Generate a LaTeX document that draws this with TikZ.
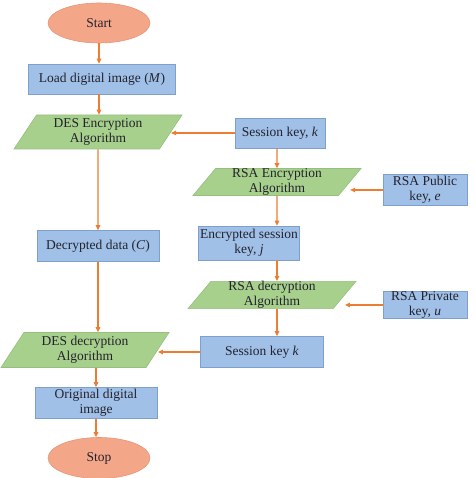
\documentclass[tikz,border=0pt]{standalone}
\usepackage{fontspec}
\setmainfont{Liberation Serif}
\usetikzlibrary{shapes.geometric,arrows.meta}

\definecolor{boxblue}{RGB}{160,192,232}
\definecolor{boxedge}{RGB}{125,160,205}
\definecolor{algogreen}{RGB}{168,208,141}
\definecolor{algoedge}{RGB}{150,190,125}
\definecolor{termfill}{RGB}{244,166,136}
\definecolor{termedge}{RGB}{230,150,120}
\definecolor{flow}{RGB}{237,125,49}
\definecolor{inktext}{RGB}{35,35,45}

\tikzset{
  stepbox/.style={draw=boxedge, fill=boxblue, line width=0.6pt, align=center, inner sep=0pt},
  algo/.style={trapezium, trapezium left angle=50, trapezium right angle=130,
    trapezium stretches body, draw=algoedge, fill=algogreen, line width=0.6pt,
    align=center, inner sep=0pt, minimum width=168},
  term/.style={ellipse, draw=termedge, fill=termfill, line width=0.6pt,
    minimum width=102, minimum height=40},
  flowline/.style={draw=flow, line width=1.1pt, -{Triangle[length=5pt,width=4.5pt]}}
}

\begin{document}
\begin{tikzpicture}[x=1pt,y=1pt,yscale=1,xscale=1,text=inktext,font=\fontsize{13.5}{15}\selectfont]
\useasboundingbox (0,0) rectangle (474,478);
% left column
\node [term] (start) at (99,455) {Start};
\node [stepbox, minimum width=147, minimum height=30] (load) at (102,399) {Load digital image (\textit{M})};
\node [algo, minimum height=34] (desenc) at (98,346) {DES Encryption\\Algorithm};
\node [stepbox, minimum width=122, minimum height=31] (decdata) at (98,232) {Decrypted data (\textit{C})};
\node [algo, minimum height=35] (desdec) at (85,128) {DES decryption\\Algorithm};
\node [stepbox, minimum width=122, minimum height=31] (orig) at (96,75) {Original digital\\image};
\node [term, minimum height=41] (stop) at (99,20) {Stop};
% right column
\node [stepbox, minimum width=90, minimum height=30] (skey) at (280,345) {Session key, \textit{k}};
\node [algo, minimum height=27] (rsaenc) at (277,296) {RSA Encryption\\Algorithm};
\node [stepbox, minimum width=84, minimum height=31] (pubkey) at (425,288) {RSA Public\\key, \textit{e}};
\node [stepbox, minimum width=101, minimum height=34] (encskey) at (249,235) {Encrypted session\\key, \textit{j}};
\node [algo, minimum height=25] (rsadec) at (272,183) {RSA decryption\\Algorithm};
\node [stepbox, minimum width=84, minimum height=25] (privkey) at (425,173) {RSA Private\\key, \textit{u}};
\node [stepbox, minimum width=123, minimum height=31] (skeyout) at (262,126) {Session key \textit{k}};
%Arrows
\draw [flowline] (start) -- (start |- load.north);
\draw [flowline] (load.south -| start) -- (start |- desenc.north);
\draw [flowline] (desenc) -- (desenc |- decdata.north);
\draw [flowline] (decdata.south -| desenc) -- (desenc |- desdec.north);
\draw [flowline] (desdec.south -| orig) -- (orig);
\draw [flowline] (orig) -- (orig |- stop.north);
\draw [flowline] (skey.west) -- (skey.west -| desenc.east);
\draw [flowline] (skey.south -| rsaenc) -- (rsaenc);
\draw [flowline] (pubkey.west) -- (pubkey.west -| rsaenc.east);
\draw [flowline] (rsaenc.south) -- (rsaenc |- encskey.north);
\draw [flowline] (encskey.south -| rsaenc) -- (rsaenc |- rsadec.north);
\draw [flowline] (privkey.west) -- (privkey.west -| rsadec.east);
\draw [flowline] (rsadec.south -| rsaenc) -- (rsaenc |- skeyout.north);
\draw [flowline] (skeyout.west) -- (skeyout.west -| desdec.east);
\end{tikzpicture}
\end{document}
